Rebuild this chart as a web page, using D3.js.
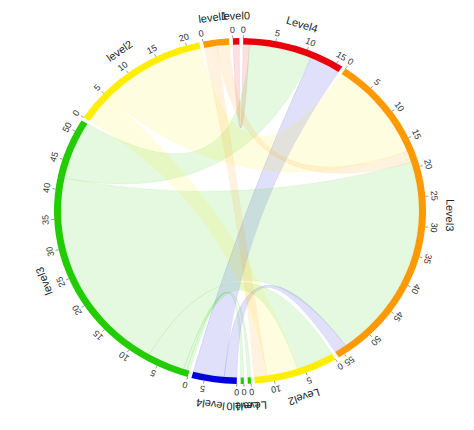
<!DOCTYPE html><html><head><meta charset="utf-8"><script src="https://cdn.jsdelivr.net/npm/d3@7"></script>
<style>body{margin:0;background:#fff}text{font-family:Arial,"Liberation Sans",sans-serif}</style></head><body>
<svg id="c" width="474" height="430"></svg>
<script>
const sectors=["Level4","Level3","Level2","Level1","Level0","level4","level3","level2","level1","level0"];
const sizes=[16,56,13,0.5,0.5,7,52,22,4,1];
const colors=["#e8000b","#ff9900","#ffee00","#22cc00","#22cc00","#0000dd","#22cc00","#ffee00","#ff9900","#e8000b"];
const links=[
 ["level0","Level4",1],["level3","Level4",10],["level4","Level4",5],
 ["level2","Level3",17],["level1","Level3",2],["level3","Level3",35],["level4","Level3",2],
 ["level3","Level2",6],["level2","Level2",5],["level1","Level2",2],
 ["level3","Level1",0.5],["level3","Level0",0.5]
];
const cx=240,cy=211,R=186,k=0.93,ring=7,gapDeg=1.2,startDeg=1;
const svg=d3.select("#c");
const total=d3.sum(sizes);
const dpu=(360-gapDeg*sectors.length)/total;
const ang=d3.scaleLinear().domain([0,1]).range([0,dpu*Math.PI/180]);
let a=startDeg*Math.PI/180;const sec={};
sectors.forEach((s,i)=>{sec[s]={start:a,end:a+ang(sizes[i]),color:colors[i],size:sizes[i],pos:0};a=sec[s].end+gapDeg*Math.PI/180;});
const g=svg.append("g").attr("transform",`translate(${cx},${cy}) scale(1,${k})`);
const rib=d3.ribbon().radius(R-ring);
const lowOrder={"level4":["Level3","Level4"],"level3":["Level0","Level1","Level2","Level3","Level4"],"level2":["Level2","Level3"],"level1":["Level2","Level3"],"level0":["Level4"]};
const lowPos={};
Object.entries(lowOrder).forEach(([s,ts])=>{let p=0;ts.forEach(t=>{const l=links.find(l=>l[0]==s&&l[1]==t);if(l){lowPos[s+t]=p;p+=l[2];}});});
links.forEach(([s,t,v])=>{const S=sec[s],T=sec[t];
 const sp=lowPos[s+t];const tp=T.pos;T.pos+=v;
 g.append("path").attr("d",rib({source:{startAngle:S.start+ang(sp),endAngle:S.start+ang(sp+v)},target:{startAngle:T.start+ang(tp),endAngle:T.start+ang(tp+v)}}))
  .attr("fill",S.color).attr("fill-opacity",0.12).attr("stroke",S.color).attr("stroke-opacity",0.08);
});
const arc=d3.arc().innerRadius(R-ring).outerRadius(R);
sectors.forEach(s=>{const S=sec[s];g.append("path").attr("d",arc({startAngle:S.start,endAngle:S.end})).attr("fill",S.color);});
function pt(r,an){return [cx+r*Math.sin(an),cy-r*Math.cos(an)*k];}
sectors.forEach(s=>{const S=sec[s];
 d3.range(0,S.size+0.001,5).forEach(v=>{const an=S.start+ang(v);const p1=pt(R,an),p2=pt(R+3,an);
  svg.append("line").attr("x1",p1[0]).attr("y1",p1[1]).attr("x2",p2[0]).attr("y2",p2[1]).attr("stroke","#555").attr("stroke-width",0.6);
  const p=pt(R+9,an);
  svg.append("text").attr("transform",`translate(${p[0]},${p[1]}) rotate(${an*180/Math.PI})`).attr("text-anchor","middle").attr("dy","0.35em").attr("font-size",9).attr("fill","#333").text(v);
 });
 const mid=(S.start+S.end)/2;const p=pt(R+24,mid);
 svg.append("text").attr("transform",`translate(${p[0]},${p[1]}) rotate(${mid*180/Math.PI})`).attr("text-anchor","middle").attr("dy","0.35em").attr("font-size",11).attr("fill","#222").text(s);
});
</script></body></html>
